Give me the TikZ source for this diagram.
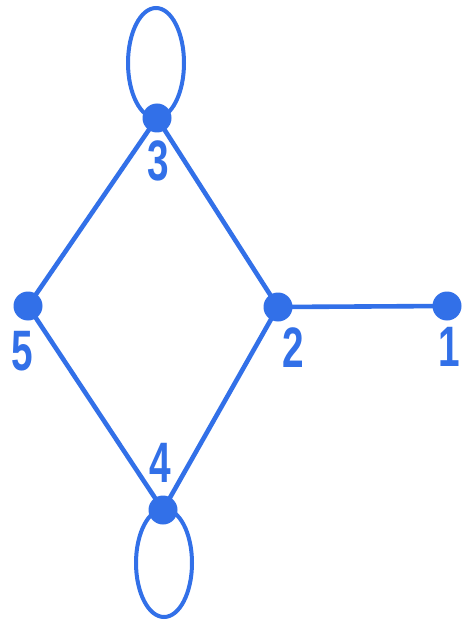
\documentclass[tikz,border=0pt]{standalone}
\usepackage{fontspec}
\setmainfont{Liberation Sans}
\definecolor{gblue}{RGB}{50,112,232}
\begin{document}
\begin{tikzpicture}[x=1pt,y=-1pt,
  vert/.style={circle,fill=gblue,inner sep=0pt,minimum width=26pt,minimum height=29pt},
  edge/.style={draw=gblue,line width=4.6pt},
  loopline/.style={draw=gblue,line width=4pt},
  lab/.style={text=gblue,inner sep=0pt,font=\fontsize{57}{57}\selectfont\bfseries,xscale=0.68}]
\useasboundingbox[fill=white] (0,0) rectangle (474,628);
% loops
\draw[loopline] (156,63) ellipse [x radius=28, y radius=55];
\draw[loopline] (164,563) ellipse [x radius=28, y radius=54];
% vertices
\coordinate (c3) at (157,118);
\coordinate (c2) at (278,307);
\coordinate (c1) at (447,306);
\coordinate (c5) at (28,306);
\coordinate (c4) at (163,510);
\draw[edge] (c3) -- (c5);
\draw[edge] (c3) -- (c2);
\draw[edge] (c5) -- (c4);
\draw[edge] (c2) -- (c4);
\draw[edge] (c2) -- (c1);
\node[vert] (v3) at (c3) {};
\node[vert] (v2) at (c2) {};
\node[vert] (v1) at (c1) {};
\node[vert] (v5) at (c5) {};
\node[vert] (v4) at (c4) {};
% labels
\node[lab] (l3) at (158,161) {3};
\node[lab] (l2) at (293,348) {2};
\node[lab] (l1) at (449,347) {1};
\node[lab] (l5) at (22,351) {5};
\node[lab] (l4) at (160,463) {4};
\end{tikzpicture}
\end{document}
